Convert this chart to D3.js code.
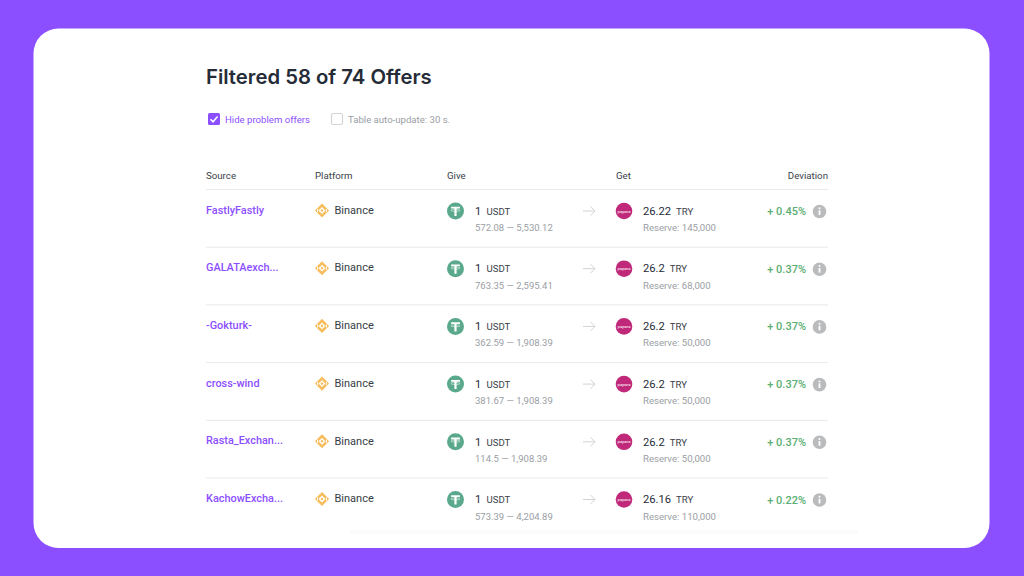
<!DOCTYPE html>
<html>
<head>
<meta charset="utf-8">
<style>
html, body { margin: 0; padding: 0; background: #8c4fff; overflow: hidden; }
svg { display: block; }
text { font-family: Roboto, sans-serif; }
</style>
<script src="https://cdn.jsdelivr.net/npm/d3@7"></script>
</head>
<body>
<svg id="chart" width="1024" height="576"></svg>
<script>
// Table contents
var columns = ["Source", "Platform", "Give", "Get", "Deviation"];
var sources = ["FastlyFastly", "GALATAexch...", "-Gokturk-", "cross-wind", "Rasta_Exchan...", "KachowExcha..."];
var platforms = ["Binance", "Binance", "Binance", "Binance", "Binance", "Binance"];
var giveAmounts = ["1", "1", "1", "1", "1", "1"];
var giveRanges = ["572.08 — 5,530.12", "763.35 — 2,595.41", "362.59 — 1,908.39", "381.67 — 1,908.39", "114.5 — 1,908.39", "573.39 — 4,204.89"];
var getRates = ["26.22", "26.2", "26.2", "26.2", "26.2", "26.16"];
var reserves = ["145,000", "68,000", "50,000", "50,000", "50,000", "110,000"];
var deviations = ["0.45", "0.37", "0.37", "0.37", "0.37", "0.22"];

var purple = "#8c4fff",
    dark = "#252c38",
    grey = "#9a9ea4",
    rule = "#e9e9ea",
    green = "#5cae73";

var svg = d3.select("#chart");

// Background card
svg.append("rect").attr("x", 33.5).attr("y", 28.5).attr("width", 956).attr("height", 519.5)
    .attr("rx", 25).attr("fill", "#fff");

svg.append("text").attr("x", 206).attr("y", 84)
    .style("font-family", "Inter").attr("font-size", 20.3).attr("font-weight", 600).attr("fill", dark)
    .text("Filtered 58 of 74 Offers");

// Checkboxes
var checked = svg.append("g").attr("transform", "translate(208,113)");
checked.append("rect").attr("width", 12).attr("height", 12).attr("rx", 1.5).attr("fill", purple);
checked.append("path").attr("d", "M2.5 6.2 L5 8.8 L9.6 3.4").attr("fill", "none")
    .attr("stroke", "#fff").attr("stroke-width", 1.5);
svg.append("text").attr("x", 225).attr("y", 122.5).attr("font-size", 9.6).attr("fill", purple)
    .text("Hide problem offers");
svg.append("rect").attr("x", 331.5).attr("y", 113.5).attr("width", 11).attr("height", 11).attr("rx", 1.5)
    .attr("fill", "#fff").attr("stroke", "#d4d4d6").attr("stroke-width", 1.2);
svg.append("text").attr("x", 348).attr("y", 122.5).attr("font-size", 9.6).attr("fill", grey)
    .text("Table auto-update: 30 s.");

// Column positions and row bands
var x = d3.scaleOrdinal().domain(columns).range([206, 315, 447, 616, 828]);
var y = d3.scaleBand().domain(d3.range(sources.length)).range([189, 535.2]);

svg.selectAll(".head").data(columns).enter().append("text")
    .attr("class", "head")
    .attr("x", function (d) { return x(d); })
    .attr("y", 178.5)
    .attr("font-size", 9.7)
    .attr("fill", "#3b4149")
    .attr("text-anchor", function (d) { return d === "Deviation" ? "end" : "start"; })
    .text(function (d) { return d; });

// Row separators, the last row has none
svg.selectAll(".rule").data(d3.range(sources.length)).enter().append("line")
    .attr("class", "rule")
    .attr("x1", 206).attr("x2", 828)
    .attr("y1", function (d) { return y(d) + 0.5; })
    .attr("y2", function (d) { return y(d) + 0.5; })
    .attr("stroke", rule);

// Faint shadow under the table
svg.append("rect").attr("x", 350).attr("y", 530).attr("width", 508).attr("height", 4)
    .attr("fill", "#fbfbfb");

function drawBinance(g) {
    // Diamond ring cut by white gaps, like the logo at this size
    var c = "#f7bd5c";
    g.append("rect").attr("x", -5).attr("y", -5).attr("width", 10).attr("height", 10)
        .attr("fill", c).attr("transform", "rotate(45)");
    g.append("rect").attr("x", -2.4).attr("y", -2.4).attr("width", 4.8).attr("height", 4.8)
        .attr("fill", "#fff").attr("transform", "rotate(45)");
    g.append("rect").attr("x", -1.1).attr("y", -1.1).attr("width", 2.2).attr("height", 2.2)
        .attr("fill", c).attr("transform", "rotate(45)");
    [[-4.4, 0], [4.4, 0]].forEach(function (p) {
        g.append("rect").attr("x", p[0] - 0.5).attr("y", -1.6).attr("width", 1).attr("height", 3.2)
            .attr("fill", "#fff");
    });
}

function drawTether(g) {
    g.append("circle").attr("r", 8.5).attr("fill", "#5aa98c");
    g.append("path").attr("d", "M-4.4 -4.2 H4.4 V-2.4 H1.1 V5 H-1.1 V-2.4 H-4.4 Z").attr("fill", "#fff");
    g.append("ellipse").attr("cy", -0.6).attr("rx", 4.6).attr("ry", 1).attr("fill", "none")
        .attr("stroke", "#fff").attr("stroke-width", 0.5);
}

function drawPapara(g) {
    g.append("circle").attr("r", 8.3).attr("fill", "#c0287a");
    g.append("text").attr("text-anchor", "middle").attr("y", 1.6).attr("font-size", 4.2)
        .attr("fill", "#fff").text("papara");
}

function drawArrow(g) {
    g.append("path").attr("d", "M-6 0 H6 M1.5 -4.5 L6 0 L1.5 4.5").attr("fill", "none")
        .attr("stroke", "#d2d3d5").attr("stroke-width", 1);
}

function drawInfo(g) {
    g.append("circle").attr("r", 6.8).attr("fill", "#b9bbbd");
    g.append("rect").attr("x", -0.9).attr("y", -1.2).attr("width", 1.8).attr("height", 4.6).attr("fill", "#fff");
    g.append("circle").attr("cy", -3.2).attr("r", 1).attr("fill", "#fff");
}

sources.forEach(function (s, i) {
    var row = svg.append("g").attr("transform", "translate(0," + y(i) + ")");

    row.append("text").attr("x", x("Source")).attr("y", 24.5)
        .attr("font-size", 10.9).attr("font-weight", 500).attr("fill", purple).text(s);

    drawBinance(row.append("g").attr("transform", "translate(322,21.5)"));
    row.append("text").attr("x", 334.5).attr("y", 24.8)
        .attr("font-size", 11).attr("fill", "#363c46").text(platforms[i]);

    drawTether(row.append("g").attr("transform", "translate(455.5,22)"));
    row.append("text").attr("x", 475).attr("y", 25.8)
        .attr("font-size", 11).attr("fill", dark).text(giveAmounts[i]);
    row.append("text").attr("x", 486.5).attr("y", 25.8)
        .attr("font-size", 9.6).attr("fill", "#3b4149").text("USDT");
    row.append("text").attr("x", 475).attr("y", 42)
        .attr("font-size", 9.5).attr("fill", grey).text(giveRanges[i]);

    drawArrow(row.append("g").attr("transform", "translate(589,22)"));

    drawPapara(row.append("g").attr("transform", "translate(624,22)"));
    var rate = row.append("text").attr("x", 643).attr("y", 25.8)
        .attr("font-size", 11.2).attr("fill", dark).text(getRates[i]);
    row.append("text").attr("x", 643 + rate.node().getComputedTextLength() + 5).attr("y", 25.8)
        .attr("font-size", 9.6).attr("fill", "#3b4149").text("TRY");
    row.append("text").attr("x", 643).attr("y", 42)
        .attr("font-size", 9.6).attr("fill", grey).text("Reserve: " + reserves[i]);

    row.append("text").attr("x", 806).attr("y", 26).attr("text-anchor", "end")
        .attr("font-size", 11).attr("font-weight", 500).attr("fill", green).text("+ " + deviations[i] + "%");
    drawInfo(row.append("g").attr("transform", "translate(819.5,22.5)"));
});
</script>
</body>
</html>
